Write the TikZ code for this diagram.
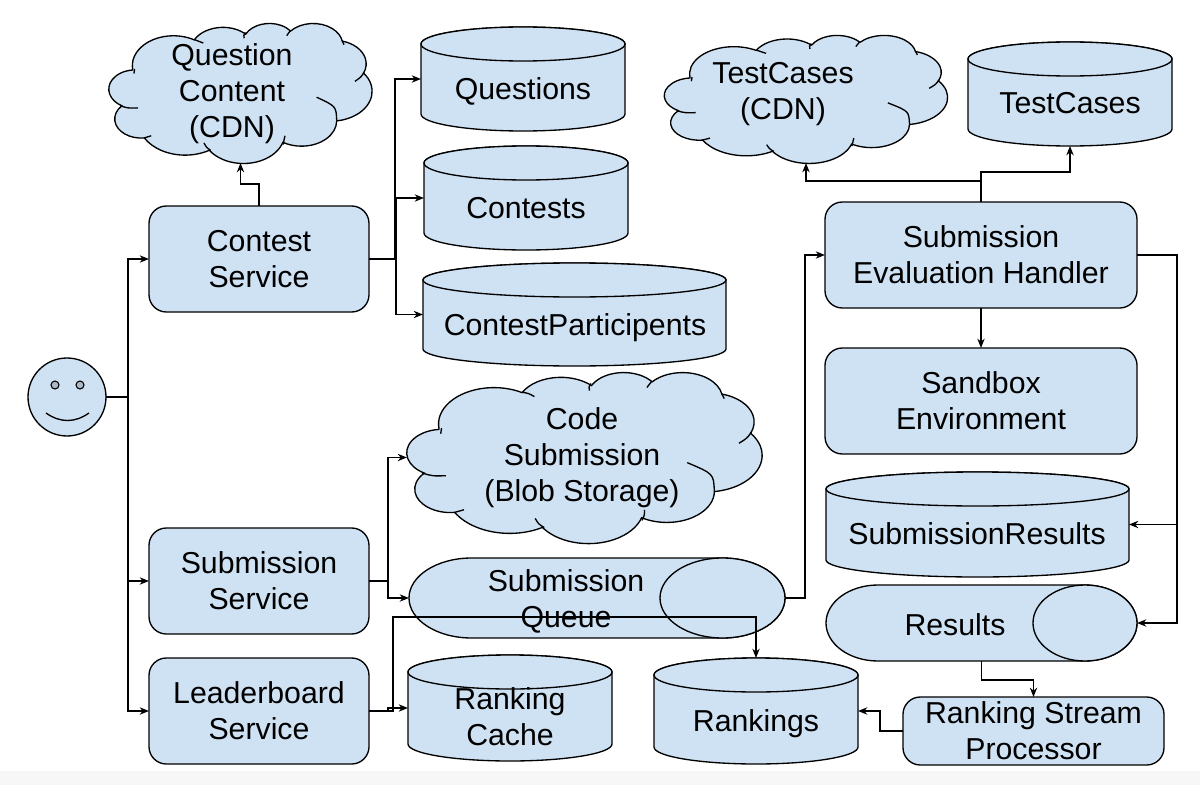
\documentclass[tikz,border=0pt]{standalone}
\usepackage{fontspec}
\setmainfont{Liberation Sans}
\usetikzlibrary{shapes,arrows.meta}
\definecolor{boxblue}{RGB}{207, 226, 243}
\definecolor{eyegray}{RGB}{170, 185, 200}
\tikzstyle{svc} = [rectangle, rounded corners=13pt, draw=black, line width=1pt, fill=boxblue, align=center, inner sep=0pt, outer sep=0pt, execute at begin node={\rule{0pt}{21pt}}]
\tikzstyle{shapeline} = [draw=black, line width=1pt, fill=boxblue]
\tikzstyle{textonly} = [draw=none, fill=none, align=center]
\tikzstyle{tedge} = [draw, line width=1pt, >={Stealth[length=7pt, width=5.5pt]}, ->]
\tikzset{wh/.style 2 args={minimum width=#1*.75pt, minimum height=#2*.75pt}}
% one arc of the cloud outline, angles as seen on the page
\newcommand{\cloudarc}[4]{\pgfextra{%
  \pgfmathsetmacro\arcfrom{atan2(#1*sin(#3),#2*cos(#3))}%
  \pgfmathsetmacro\arcto{atan2(#1*sin(#3+#4),#2*cos(#3+#4))}%
  \pgfmathsetmacro\arcto{\arcto+360*(\arcto<\arcfrom)}%
  } arc[x radius=#1, y radius=#2, start angle=\arcfrom, end angle=\arcto]}
\newcommand{\cloudshape}[5]{%
  \begin{scope}[shift={(#2-#4/2,#3-#5/2)}, x=#4*.75pt/43.2, y=-#5*.75pt/43.2]
    \draw[shapeline] (3.9,14.37) \cloudarc{6.753}{9.19}{-190.488}{123.781}
      \cloudarc{5.333}{7.267}{-144.102}{89.945} \cloudarc{4.365}{5.945}{-145.808}{99.723}
      \cloudarc{4.857}{6.595}{-130.986}{117.242} \cloudarc{5.333}{7.273}{-78.709}{109.027}
      \cloudarc{6.775}{9.22}{-46.267}{130.269} \cloudarc{5.785}{7.867}{0.625}{114.033}
      \cloudarc{6.752}{9.215}{22.452}{115.173} \cloudarc{7.72}{10.543}{66.243}{75.711}
      \cloudarc{4.36}{5.918}{-274.942}{146.736} \cloudarc{4.345}{5.945}{-246.829}{152.519} -- cycle;
    \foreach \ax/\ay/\cx/\cy/\bx/\by in {4.74/26.2/3.09/26.3/1.82/25.5, 6.94/34.8/6.4/35.1/5.73/35.5,
      15.6/37/16/38.4/16.7/39.3, 28.9/34.8/28.9/36.2/28.6/37.5, 34.1/22.9/37.3/25.7/37.4/30,
      40.4/18/41.4/16.7/41.9/15.2, 38.3/5.45/38.35/6.2/38.6/6.7, 29.2/3.9/29.4/3.1/29.8/2.3,
      22.2/4.7/22.1/3.8/22.4/2.9, 14/5.1/14.8/5.4/15.5/6.2, 4.1/15.6/4.2/14.9/4.2/14.2}
      \draw[line width=1pt] (\ax,\ay) .. controls (\cx,\cy) .. (\bx,\by);
  \end{scope}
  \node[wh={#4}{#5}, inner sep=0pt, outer sep=0pt] (#1) at (#2,#3) {};}
% upright drum: name, centre x, centre y, width, height
\newcommand{\drumshape}[5]{%
  \draw[shapeline] (#2-#4/2,#3-#5/2+17) arc[x radius=#4/2, y radius=17, start angle=180, end angle=360]
    -- (#2+#4/2,#3+#5/2-17) arc[x radius=#4/2, y radius=17, start angle=0, end angle=180] -- cycle;
  \draw[shapeline] (#2,#3-#5/2+17) ellipse[x radius=#4/2, y radius=17];
  \node[wh={#4}{#5}, inner sep=0pt, outer sep=0pt] (#1) at (#2,#3) {};}
% lying drum: name, centre x, centre y, width, height, end radius
\newcommand{\pipeshape}[6]{%
  \draw[shapeline] (#2-#4/2+#6,#3-#5/2) -- (#2+#4/2-#6,#3-#5/2)
    arc[x radius=#6, y radius=#5/2, start angle=270, end angle=450]
    -- (#2-#4/2+#6,#3+#5/2) arc[x radius=#6, y radius=#5/2, start angle=90, end angle=270] -- cycle;
  \draw[shapeline] (#2+#4/2-#6,#3) ellipse[x radius=#6, y radius=#5/2];
  \node[wh={#4}{#5}, inner sep=0pt, outer sep=0pt] (#1) at (#2,#3) {};}
\begin{document}
\begin{tikzpicture}[x=.75pt, y=-.75pt, font=\fontsize{22.7}{27}\selectfont]
\useasboundingbox (0,0) rectangle (1200,785);
\fill[black!3] (0,771) rectangle (1200,785);

% user =============================
\node[circle, draw=black, line width=1pt, fill=boxblue, wh={78}{78}, inner sep=0pt, outer sep=0pt] (face) at (67,397) {};
\node[circle, draw=black, line width=.8pt, fill=eyegray, wh={8}{8}, inner sep=0pt] (eyeleft) at (55,385) {};
\node[circle, draw=black, line width=.8pt, fill=eyegray, wh={8}{8}, inner sep=0pt] (eyeright) at (80,385) {};
\draw[line width=1pt] (46,413) .. controls (60,423) and (75,423) .. (89,413);

% services
\node[svc, wh={220}{106}] (contest) at (259,259) {Contest\\Service};
\node[svc, wh={220}{106}] (submit) at (259,581) {Submission\\Service};
\node[svc, wh={220}{106}] (leader) at (259,711) {Leaderboard\\Service};
\node[svc, wh={312}{106}] (handler) at (981,255) {Submission\\Evaluation Handler};
\node[svc, wh={312}{106}] (sandbox) at (981,401) {Sandbox\\Environment};
\node[svc, wh={261}{68}] (stream) at (1033.5,731) {Ranking Stream\\Processor};

% stores
\drumshape{questions}{523}{79}{204}{104}
\drumshape{contests}{526}{198}{204}{104}
\drumshape{participants}{574.5}{314.5}{303}{103}
\drumshape{testcases}{1070}{94}{204}{104}
\drumshape{results}{977.5}{524.5}{303}{105}
\drumshape{rankcache}{510}{708}{204}{106}
\drumshape{rankings}{756}{711}{204}{106}
\node[textonly] (questionslabel) at (523,91) {Questions};
\node[textonly] (contestslabel) at (526,208) {Contests};
\node[textonly] (participantslabel) at (575,328) {ContestParticipents};
\node[textonly] (testcaseslabel) at (1070,103) {TestCases};
\node[textonly] (resultslabel) at (977,534) {SubmissionResults};
\node[textonly] (rankcachelabel) at (510,717) {Ranking\\Cache};
\node[textonly] (rankingslabel) at (756,724) {Rankings};

% queues
\pipeshape{subqueue}{597}{598}{376}{80}{62.5}
\pipeshape{resqueue}{981.5}{623}{311}{76}{52}
\node[textonly] (subqueuelabel) at (566,601) {Submission\\Queue};
\node[textonly] (resqueuelabel) at (955,625) {Results};

% clouds
\cloudshape{questioncdn}{240.5}{93}{263}{140}
\node[textonly] (questiontext) at (232,94) {Question\\Content\\(CDN)};
\cloudshape{testcdn}{806}{99}{283}{128}
\node[textonly] (testtext) at (783,94) {TestCases\\(CDN)};
\cloudshape{codeblob}{584.5}{457.5}{355}{171}
\node[textonly] (codetext) at (582,458) {Code\\Submission\\(Blob Storage)};

% edges
\coordinate (trunk) at (128,397);
\coordinate (rankbend) at (393,617);
\path[tedge] (face.east) -- (trunk) |- (contest.west);
\path[tedge] (face.east) -- (trunk) |- (submit.west);
\path[tedge] (face.east) -- (trunk) |- (leader.west);
\path[tedge] (contest.north) -- ++(0,-22) -| (questioncdn.south);
\path[tedge] (contest.east) -- ++(26,0) |- (questions.west);
\path[tedge] (contest.east) -- ++(27,0) |- (contests.west);
\path[tedge] (contest.east) -- ++(27,0) |- (participants.west);
\path[tedge] (submit.east) -- ++(19,0) |- (codeblob.west);
\path[tedge] (submit.east) -- ++(19,0) |- (subqueue.west);
\path[tedge] (subqueue.east) -- ++(20,0) |- (handler.west);
\path[tedge] (leader.east) -- ++(19,0) |- (rankcache.west);
\path[tedge] (leader.east) -- ++(24,0) -- (rankbend) -| (rankings.north);
\path[tedge] (handler.north) -- ++(0,-30) -| (testcases.south);
\path[tedge] (handler.north) -- ++(0,-21) -| (testcdn.south);
\path[tedge] (handler.south) -- (sandbox.north);
\path[tedge] (handler.east) -- ++(40,0) |- (results.east);
\path[tedge] (handler.east) -- ++(40,0) |- (resqueue.east);
\path[tedge] (resqueue.south) -- ++(0,19) -| (stream.north);
\path[tedge] (stream.west) -- ++(-23,0) |- (rankings.east);

\end{tikzpicture}
\end{document}
